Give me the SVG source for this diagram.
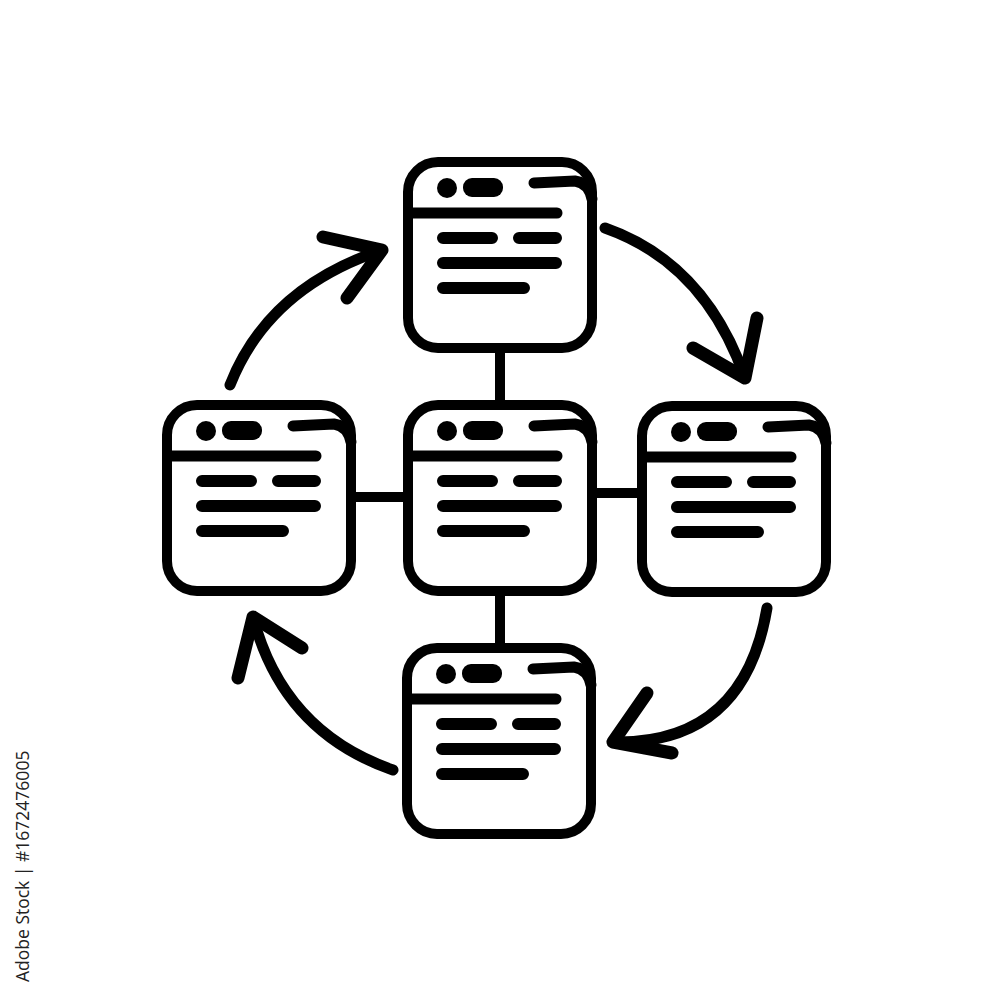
<svg xmlns="http://www.w3.org/2000/svg" xmlns:xlink="http://www.w3.org/1999/xlink" width="1000" height="1000" viewBox="0 0 1000 1000">
<style>
.frame{fill:#fff;stroke:#000;stroke-width:10}
.ink{fill:none;stroke:#000;stroke-linecap:round;stroke-linejoin:round}
.bar{stroke-width:12}
.conn{fill:none;stroke:#000;stroke-width:10}
.arc{fill:none;stroke:#000;stroke-width:11;stroke-linecap:round}
.head{fill:none;stroke:#000;stroke-width:13;stroke-linecap:round;stroke-linejoin:round}
.wm{font-family:"Open Sans","Liberation Sans",sans-serif;font-size:17.5px;fill:#222}
</style>
<defs>
<symbol id="win" overflow="visible">
<rect class="frame" x="5" y="5" width="184" height="186" rx="30"/>
<circle cx="44" cy="31" r="10" fill="#000"/>
<rect x="60" y="21" width="40" height="19" rx="9" fill="#000"/>
<path class="ink" d="M131,26 L172,24 Q186,26 189,42" stroke-width="11"/>
<path class="ink" d="M6,56 L154,56" stroke-width="11"/>
<path class="ink bar" d="M40,81 L89,81 M116,81 L153,81 M40,106 L153,106 M40,131 L121,131"/>
</symbol>
</defs>
<rect width="1000" height="1000" fill="#fff"/>
<g id="connectors">
<path class="conn" d="M500,352 L500,402"/>
<path class="conn" d="M500,594 L500,645"/>
<path class="conn" d="M350,497 L405,497"/>
<path class="conn" d="M595,493 L641,493"/>
<path class="arc" d="M605,228 Q705,263 745,378"/>
<path class="head" d="M693,348 L745,378 L757,318"/>
<path class="arc" d="M230,385 Q268,288 382,250"/>
<path class="head" d="M323,237 L382,250 L347,298"/>
<path class="arc" d="M393,770 Q283,732 253,617"/>
<path class="head" d="M302,648 L253,617 L238,678"/>
<path class="arc" d="M767,608 Q744,745 613,742"/>
<path class="head" d="M647,693 L613,742 L672,753"/>
</g>
<g id="node-top" transform="translate(403,157)"><use xlink:href="#win" href="#win"/></g>
<g id="node-center" transform="translate(403,400)"><use xlink:href="#win" href="#win"/></g>
<g id="node-left" transform="translate(162,400)"><use xlink:href="#win" href="#win"/></g>
<g id="node-right" transform="translate(637,401)"><use xlink:href="#win" href="#win"/></g>
<g id="node-bottom" transform="translate(402,643)"><use xlink:href="#win" href="#win"/></g>
<text class="wm" transform="translate(29,982) rotate(-90)">Adobe Stock | #1672476005</text>
</svg>
